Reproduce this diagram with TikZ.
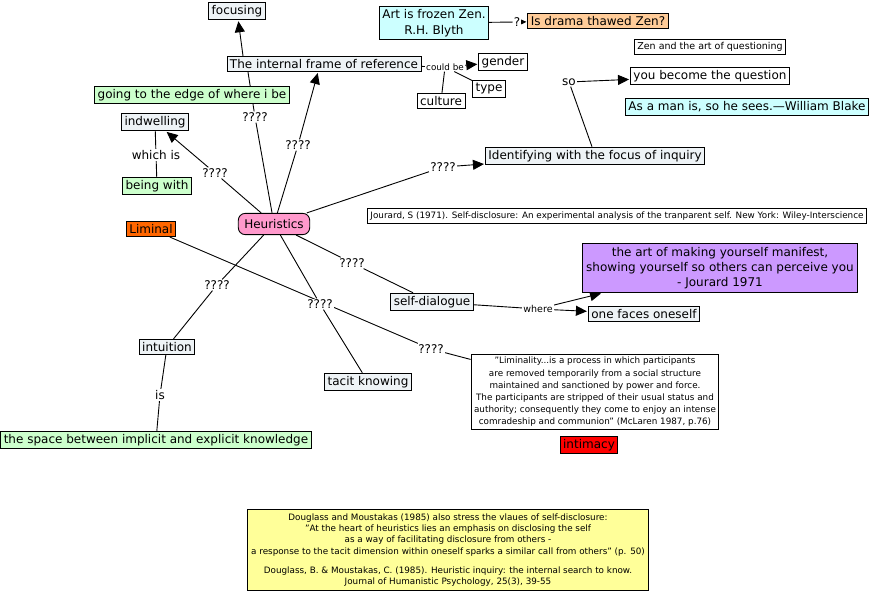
\documentclass[tikz,border=0pt]{standalone}
\usepackage{fontspec}
\setmainfont{DejaVu Sans}
\usetikzlibrary{arrows.meta}
\pgfdeclarelayer{bg}
\pgfsetlayers{bg,main}
\definecolor{cy}{HTML}{CCFFFF}
\definecolor{pe}{HTML}{FFCC99}
\definecolor{gr}{HTML}{CCFFCC}
\definecolor{lg}{HTML}{EEF3F6}
\definecolor{pk}{HTML}{FF99CC}
\definecolor{og}{HTML}{FF6600}
\definecolor{pu}{HTML}{CC99FF}
\definecolor{ye}{HTML}{FFFF99}
\begin{document}
\begin{tikzpicture}[x=1pt,y=-1pt,
 box/.style={draw,line width=0.9pt,inner sep=3pt,font=\fontsize{12}{14}\selectfont,fill=lg},
 wb/.style={box,fill=white},
 sm/.style={draw,line width=0.9pt,inner sep=3pt,fill=white,align=center,font=\fontsize{8.8}{12.2}\selectfont},
 lb/.style={inner sep=1pt,fill=white,font=\fontsize{12}{14}\selectfont},
 ln/.style={line width=0.9pt},
 ar/.style={line width=0.9pt,-{Triangle[length=11pt,width=10pt]},shorten >=1pt}]
\useasboundingbox (0,0) rectangle (883,593);
\node[box] (foc) at (237,11) {focusing};
\node[box,fill=cy,align=center,font=\fontsize{12}{16}\selectfont] (art) at (434,23) {Art is frozen Zen.\\R.H. Blyth};
\node[lb] (qm) at (517,22) {?};
\node[box,fill=pe] (drama) at (598,21) {Is drama thawed Zen?};
\node[box] (frame) at (324,64) {The internal frame of reference};
\node[lb,font=\fontsize{8.8}{10}\selectfont] (cb) at (445,67) {could be};
\node[wb] (gender) at (503,62) {gender};
\node[wb] (type) at (489,89) {type};
\node[wb] (cult) at (441,101) {culture};
\node[wb,font=\fontsize{9.5}{11}\selectfont] (zen) at (710,47) {Zen and the art of questioning};
\node[lb] (so) at (569,82) {so};
\node[wb] (you) at (710,76) {you become the question};
\node[box,fill=cy] (man) at (747,107) {As a man is, so he sees.—William Blake};
\node[box,fill=gr] (edge) at (192,95) {going to the edge of where i be};
\node[box] (ind) at (155,122) {indwelling};
\node[lb] (wi) at (156,155) {which is};
\node[box,fill=gr] (bw) at (157,186) {being with};
\node[lb] (q1) at (255,117) {????};
\node[lb] (q2) at (298,145) {????};
\node[lb] (q3) at (215,173) {????};
\node[lb] (q4) at (443,167) {????};
\node[box] (ident) at (595,156) {Identifying with the focus of inquiry};
\node[box,fill=pk,rounded corners=7pt,inner sep=6pt] (heu) at (274,224) {Heuristics};
\node[box,fill=og] (lim) at (151,229) {Liminal};
\node[sm] (jou) at (617,216) {Jourard, S (1971). Self-disclosure: An experimental analysis of the tranparent self. New York: Wiley-Interscience};
\node[box,fill=pu,align=center,inner sep=4pt,font=\fontsize{12}{15}\selectfont] (pur) at (720,268) {the art of making yourself manifest,\\showing yourself so others can perceive you\\- Jourard 1971};
\node[lb] (q5) at (352,263) {????};
\node[box] (sd) at (432,302) {self-dialogue};
\node[lb,font=\fontsize{9.5}{11}\selectfont] (wh) at (538,309) {where};
\node[box] (one) at (644,314) {one faces oneself};
\node[lb] (q6) at (217,285) {????};
\node[lb] (q7) at (320,304) {????};
\node[lb] (q8) at (431,349) {????};
\node[box] (int) at (167,347) {intuition};
\node[lb] (is) at (160,395) {is};
\node[box,fill=gr] (sp) at (156,440) {the space between implicit and explicit knowledge};
\node[box] (tac) at (368,382) {tacit knowing};
\node[sm] (quote) at (595,392) {"Liminality...is a process in which participants\\are removed temporarily from a social structure\\maintained and sanctioned by power and force.\\The participants are stripped of their usual status and\\authority; consequently they come to enjoy an intense\\comradeship and communion" (McLaren 1987, p.76)};
\node[box,fill=red] (intim) at (589,445) {intimacy};
\node[sm,fill=ye,font=\fontsize{8.8}{11.2}\selectfont,inner sep=4pt] (dou) at (448,550) {Douglass and Moustakas (1985) also stress the vlaues of self-disclosure:\\"At the heart of heuristics lies an emphasis on disclosing the self\\as a way of facilitating disclosure from others -\\a response to the tacit dimension within oneself sparks a similar call from others" (p. 50)\\[8pt]Douglass, B. \& Moustakas, C. (1985). Heuristic inquiry: the internal search to know.\\Journal of Humanistic Psychology, 25(3), 39-55};
\begin{pgfonlayer}{bg}
\draw[ln] (heu) -- (q1) -- (frame.south -| 248,0);
\draw[ar] (frame.north -| 243,0) -- (foc);
\draw[ln] (heu) -- (q2); \draw[ar] (q2) -- (frame.south -| 318,0);
\draw[ln] (heu) -- (q3); \draw[ar] (q3) -- (ind);
\draw[ln] (ind) -- (wi) -- (bw);
\draw[ln] (heu) -- (q4); \draw[ar] (q4) -- (ident);
\draw[ln] (frame) -- (cb); \draw[ar] (cb) -- (gender);
\draw[ln] (cb) -- (cult); \draw[ln] (cb) -- (type);
\draw[ln] (art) -- (qm); \draw[ar] (qm) -- (drama);
\draw[ln] (ident.north -| 592,0) -- (so); \draw[ar] (so) -- (you);
\draw[ln] (heu) -- (q5) -- (sd);
\draw[ln] (sd) -- (wh); \draw[ar] (wh) -- (pur.south west -| 602,0); \draw[ar] (wh) -- (one);
\draw[ln] (heu) -- (q6) -- (int);
\draw[ln] (int) -- (is) -- (sp);
\draw[ln] (heu) -- (q7) -- (tac);
\draw[ln] (lim) -- (q8) -- (quote);
\end{pgfonlayer}
\end{tikzpicture}
\end{document}
